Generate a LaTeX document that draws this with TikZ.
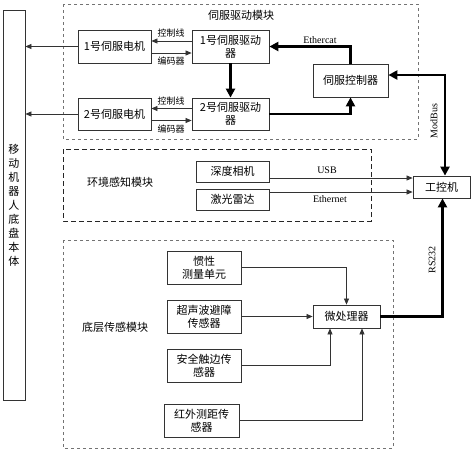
\documentclass[tikz,border=0pt]{standalone}
\usepackage{fontspec}
\setmainfont{Liberation Serif}
\newfontfamily\cjk{Noto Sans CJK SC}
\usetikzlibrary{arrows.meta}

\tikzset{
  blk/.style={draw=black!80, line width=0.8pt, font=\cjk\fontsize{11}{13}\selectfont, align=center, inner sep=1pt},
  lbl/.style={font=\fontsize{10}{12}\selectfont, inner sep=1pt},
  sml/.style={font=\cjk\fontsize{9}{10}\selectfont, inner sep=1pt},
  ttl/.style={font=\cjk\fontsize{11}{13}\selectfont, inner sep=1pt},
  thinarr/.style={draw=black!80, line width=0.7pt, -{Triangle[length=6pt,width=5pt]}},
  thickarr/.style={line width=2.4pt, -{Triangle[length=9pt,width=9pt]}},
  modframe/.style={draw=black!55, dashed, line width=0.7pt},
}

\begin{document}
\begin{tikzpicture}[x=1pt,y=-1pt]
    \useasboundingbox (0,0) rectangle (474,451);

    % module frames
    \draw [modframe] (63,4) rectangle (418,139);
    \draw [modframe, draw=black!85, line width=1pt, dash pattern=on 5pt off 3pt] (63,149) rectangle (371,221);
    \draw [modframe] (63,240) rectangle (393,448);

    \node [ttl] (tservo) at (241,15)  {伺服驱动模块};
    \node [ttl] (tenv)   at (120,182) {环境感知模块};
    \node [ttl] (tlow)   at (115,327) {底层传感模块};

    % chassis
    \node [blk, minimum width=22pt, minimum height=390pt, font=\cjk\fontsize{11}{14}\selectfont]
          (base) at (14,205) {移\\动\\机\\器\\人\\底\\盘\\本\\体};

    % servo drive module
    \node [blk, minimum width=73pt, minimum height=33pt] (motor1) at (114.5,46.5) {1号伺服电机};
    \node [blk, minimum width=77pt, minimum height=33pt] (drv1)   at (230.5,46.5) {1号伺服驱动\\器};
    \node [blk, minimum width=73pt, minimum height=32pt] (motor2) at (114.5,114)  {2号伺服电机};
    \node [blk, minimum width=77pt, minimum height=32pt] (drv2)   at (230.5,114)  {2号伺服驱动\\器};
    \node [blk, minimum width=75pt, minimum height=33pt] (ctrl)   at (350.5,80.5) {伺服控制器};

    % environment module
    \node [blk, minimum width=73pt, minimum height=21pt] (depth) at (232.5,171.5) {深度相机};
    \node [blk, minimum width=73pt, minimum height=21pt] (lidar) at (232.5,199.5) {激光雷达};
    \node [blk, minimum width=57pt, minimum height=22pt] (ipc)   at (441.5,187)   {工控机};

    % low level sensors
    \node [blk, minimum width=74pt, minimum height=33pt] (imu)   at (204,267.5) {惯性\\测量单元};
    \node [blk, minimum width=74pt, minimum height=33pt] (ultra) at (204,316.5) {超声波避障\\传感器};
    \node [blk, minimum width=74pt, minimum height=33pt] (safe)  at (204,365.5) {安全触边传\\感器};
    \node [blk, minimum width=75pt, minimum height=33pt] (ir)    at (201.5,420.5) {红外测距传\\感器};
    \node [blk, minimum width=67pt, minimum height=23pt] (mcu)   at (346.5,316.5) {微处理器};

    % motors to chassis
    \draw [thinarr] (motor1.west) -- (motor1.west -| base.east);
    \draw [thinarr] (motor2.west) -- (motor2.west -| base.east);

    % control / encoder lines
    \draw [thinarr] ([yshift=5.5pt]drv1.west) -- ([yshift=5.5pt]drv1.west -| motor1.east);
    \draw [thinarr] ([yshift=-6.5pt]motor1.east) -- ([yshift=-6.5pt]motor1.east -| drv1.west);
    \draw [thinarr] ([yshift=5.5pt]drv2.west) -- ([yshift=5.5pt]drv2.west -| motor2.east);
    \draw [thinarr] ([yshift=-6.5pt]motor2.east) -- ([yshift=-6.5pt]motor2.east -| drv2.west);
    \node [sml] (cl1) at (171,33)  {控制线};
    \node [sml] (en1) at (171,61)  {编码器};
    \node [sml] (cl2) at (171,101) {控制线};
    \node [sml] (en2) at (171,129) {编码器};

    % bus lines
    \draw [thickarr] (drv1.south) -- (drv2.north);
    \draw [thickarr] (ctrl.north) |- (drv1.east);
    \draw [thickarr] (drv2.east) -| (ctrl.south);
    \node [lbl] (ethercat) at (320,40) {Ethercat};
    \draw [thickarr, {Triangle[length=9pt,width=9pt]}-{Triangle[length=9pt,width=9pt]}]
          ([yshift=5.5pt]ctrl.east) -| ([xshift=3.5pt]ipc.north);
    \node [lbl, rotate=90] (modbus) at (434,121) {ModBus};

    \draw [thinarr] ([yshift=-6.5pt]depth.east) -- ([yshift=-6.5pt]depth.east -| ipc.west);
    \draw [thinarr] ([yshift=7.5pt]lidar.east) -- ([yshift=7.5pt]lidar.east -| ipc.west);
    \node [lbl] (usb) at (327,170) {USB};
    \node [lbl] (eth) at (330,199) {Ethernet};

    \draw [thickarr] (mcu.east) -| ([xshift=1pt]ipc.south);
    \node [lbl, rotate=90] (rs) at (432,260) {RS232};

    % sensors to micro processor
    \draw [thinarr] (imu.east) -| (mcu.north);
    \draw [thinarr] (ultra.east) -- (mcu.west);
    \draw [thinarr] (safe.east) -| ([xshift=-16.5pt]mcu.south);
    \draw [thinarr] (ir.east) -| ([xshift=15.5pt]mcu.south);
\end{tikzpicture}
\end{document}
